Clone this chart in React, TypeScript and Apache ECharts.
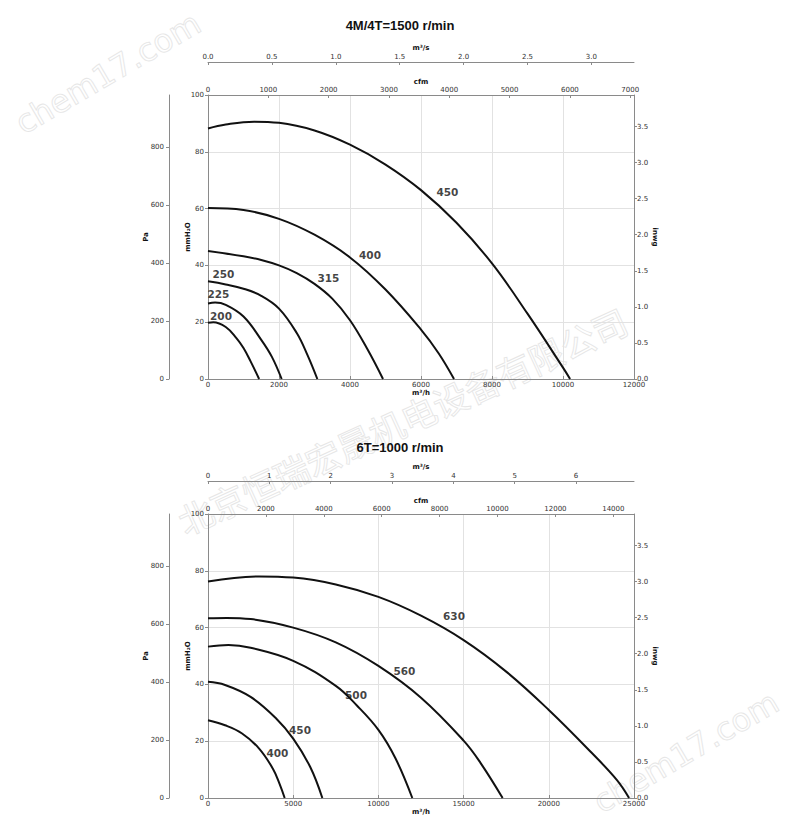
import React, { useEffect, useRef } from "react";
import * as echarts from "echarts";

// ---------- Titles ----------
const P1_TITLE = "4M/4T=1500 r/min";
const P2_TITLE = "6T=1000 r/min";

// ---------- Unit conversions ----------
const MM_MAX = 100;
const PA_PER_MM = 9.80665;
const INWG_PER_MM = 1 / 25.4;
const CFM_PER_M3H = 1 / 1.699;
const M3S_PER_M3H = 1 / 3600;

// ---------- Axis ranges / ticks ----------
const p1FlowMax = 12000;
const p1FlowInterval = 2000;
const p2FlowMax = 25000;
const p2FlowInterval = 5000;
const mmInterval = 20;
const p1CfmTicks = [0, 1000, 2000, 3000, 4000, 5000, 6000, 7000];
const p2CfmTicks = [0, 2000, 4000, 6000, 8000, 10000, 12000, 14000];
const p1M3sTicks = [0, 0.5, 1, 1.5, 2, 2.5, 3];
const p2M3sTicks = [0, 1, 2, 3, 4, 5, 6];
const paTicks = [0, 200, 400, 600, 800];
const inwgTicks = [0, 0.5, 1, 1.5, 2, 2.5, 3, 3.5];

// ---------- Panel 1 curves: [m3/h, mmH2O] ----------
const p1Fan450 = [[0, 88.2], [500, 89.6], [1300, 90.6], [2000, 90.2], [3000, 87.5], [4000, 82.5], [5000, 75.5], [6000, 66.5], [7000, 55], [8000, 40.7], [9000, 23], [10000, 4], [10200, 0]];
const p1Fan400 = [[0, 60.2], [1000, 59.5], [2000, 56.4], [3000, 50.8], [4000, 42.8], [5000, 31.5], [6000, 17.4], [6500, 9], [6930, 0]];
const p1Fan315 = [[0, 45.1], [1000, 43.2], [1500, 41.9], [2000, 40], [2500, 37.3], [3000, 33.5], [3500, 28.3], [4000, 20.7], [4500, 10.3], [4930, 0]];
const p1Fan250 = [[0, 34.4], [500, 33.3], [1000, 31.8], [1500, 29.3], [2000, 24.8], [2500, 16.2], [2800, 8.5], [3080, 0]];
const p1Fan225 = [[0, 26.6], [200, 26.9], [500, 26.1], [1000, 22], [1500, 13.8], [1800, 7.8], [2075, 0]];
const p1Fan200 = [[0, 19.8], [150, 20], [500, 18.3], [800, 14.4], [1000, 10.9], [1200, 6.2], [1440, 0]];
const p1Curves = [p1Fan450, p1Fan400, p1Fan315, p1Fan250, p1Fan225, p1Fan200];
const p1LabelNames = ["450", "400", "315", "250", "225", "200"];
const p1LabelX = [6742, 4563, 3390, 432, 291, 366];
const p1LabelY = [65.9, 43.6, 35.7, 37, 29.8, 22.3];

// ---------- Panel 2 curves: [m3/h, mmH2O] ----------
const p2Fan630 = [[0, 76.2], [3000, 78], [5000, 77.6], [7500, 75.2], [10000, 70.8], [12500, 64.2], [15000, 55.6], [17500, 44.5], [20000, 31], [22500, 16], [24000, 6.3], [24710, 0]];
const p2Fan560 = [[0, 63.3], [1100, 63.4], [2500, 63], [5000, 60], [7500, 54.8], [10000, 46.5], [12500, 35.3], [15000, 20.2], [16000, 12.3], [17290, 0]];
const p2Fan500 = [[0, 53.3], [1200, 53.9], [2500, 52.9], [5000, 48.3], [7500, 39.5], [8750, 32.5], [10000, 24], [11000, 14], [11990, 0]];
const p2Fan450 = [[0, 40.9], [1000, 39.8], [2500, 35.6], [4000, 28], [5000, 20.9], [6000, 10.9], [6710, 0]];
const p2Fan400 = [[0, 27.4], [1000, 25.6], [2000, 22.7], [3000, 17.4], [3800, 10.4], [4200, 5], [4500, 0]];
const p2Curves = [p2Fan630, p2Fan560, p2Fan500, p2Fan450, p2Fan400];
const p2LabelNames = ["630", "560", "500", "450", "400"];
const p2LabelX = [14436, 11522, 8685, 5399, 4069];
const p2LabelY = [64.1, 44.7, 36.4, 23.8, 16];

// ---------- Styles ----------
const FONT = "DejaVu Sans";
const AXIS_COLOR = "#8a8a8a";
const labelBase = { fontSize: 7, color: "#333", fontFamily: FONT };
const nameStyle = { fontSize: 7, fontWeight: "bold" as const, color: "#111", fontFamily: FONT };
const axisLine = { show: true, onZero: false, lineStyle: { color: AXIS_COLOR, width: 1 } };
const tickStyle = { color: AXIS_COLOR, width: 1 };
const plain = (v: number) => String(v);

function flowAxis(grid: number, max: number, interval: number) {
  return {
    type: "value", gridIndex: grid, position: "bottom", min: 0, max, interval,
    name: "m³/h", nameLocation: "middle", nameGap: 10, nameTextStyle: nameStyle,
    axisLine, axisTick: { show: true, inside: true, length: 3, lineStyle: tickStyle },
    axisLabel: { ...labelBase, margin: 2, formatter: plain },
    splitLine: { show: true, lineStyle: { color: "#e2e2e2", width: 1 } },
  };
}
function cfmAxis(grid: number, flowMax: number, ticks: number[]) {
  return {
    type: "value", gridIndex: grid, position: "top", min: 0, max: flowMax * CFM_PER_M3H,
    name: "cfm", nameLocation: "middle", nameGap: 9, nameTextStyle: nameStyle,
    axisLine, axisTick: { show: true, inside: true, length: 3, lineStyle: tickStyle, customValues: ticks },
    axisLabel: { ...labelBase, margin: 2, customValues: ticks, formatter: plain },
    splitLine: { show: false },
  };
}
function m3sAxis(grid: number, flowMax: number, ticks: number[], decimals: number) {
  return {
    type: "value", gridIndex: grid, position: "top", offset: 33, min: 0, max: flowMax * M3S_PER_M3H,
    name: "m³/s", nameLocation: "middle", nameGap: 11, nameTextStyle: nameStyle,
    axisLine, axisTick: { show: true, inside: true, length: 3, lineStyle: tickStyle, customValues: ticks },
    axisLabel: { ...labelBase, margin: 2, customValues: ticks, formatter: (v: number) => v.toFixed(decimals) },
    splitLine: { show: false },
  };
}
function mmAxis(grid: number) {
  return {
    type: "value", gridIndex: grid, position: "left", min: 0, max: MM_MAX, interval: mmInterval,
    name: "mmH₂O", nameLocation: "middle", nameGap: 17, nameMoveOverlap: false, nameTextStyle: nameStyle,
    axisLine, axisTick: { show: true, inside: false, length: 3, lineStyle: tickStyle },
    axisLabel: { ...labelBase, margin: 4 },
    splitLine: { show: true, lineStyle: { color: "#e2e2e2", width: 1 } },
  };
}
function paAxis(grid: number) {
  return {
    type: "value", gridIndex: grid, position: "left", offset: 39, min: 0, max: MM_MAX * PA_PER_MM,
    name: "Pa", nameLocation: "middle", nameGap: 20, nameMoveOverlap: false, nameTextStyle: nameStyle,
    axisLine, axisTick: { show: true, inside: false, length: 3, lineStyle: tickStyle, customValues: paTicks },
    axisLabel: { ...labelBase, margin: 5, customValues: paTicks },
    splitLine: { show: false },
  };
}
function inwgAxis(grid: number) {
  return {
    type: "value", gridIndex: grid, position: "right", min: 0, max: MM_MAX * INWG_PER_MM,
    name: "inwg", nameLocation: "middle", nameGap: 17, nameMoveOverlap: false, nameRotate: -90, nameTextStyle: nameStyle,
    axisLine, axisTick: { show: true, inside: false, length: 3, lineStyle: tickStyle, customValues: inwgTicks },
    axisLabel: { ...labelBase, margin: 3, customValues: inwgTicks, formatter: (v: number) => v.toFixed(1) },
    splitLine: { show: false },
  };
}

function curveSeries(curves: number[][][], xIdx: number, yIdx: number) {
  return curves.map((c) => ({
    type: "line", xAxisIndex: xIdx, yAxisIndex: yIdx, data: c,
    smooth: 0.4, symbol: "none", silent: true,
    lineStyle: { color: "#111", width: 2 },
  }));
}
function labelSeries(names: string[], xs: number[], ys: number[], xIdx: number, yIdx: number) {
  return {
    type: "scatter", xAxisIndex: xIdx, yAxisIndex: yIdx, symbolSize: 1, silent: true,
    itemStyle: { color: "transparent" },
    data: names.map((n, i) => ({ name: n, value: [xs[i], ys[i]] })),
    label: { show: true, position: "inside", formatter: "{b}", fontSize: 10.5, fontWeight: "bold", color: "#111", fontFamily: FONT },
  };
}

const wmStyle = (text: string, size: number, family: string) => ({
  text, font: `${size}px "${family}"`, fill: "rgba(255,255,255,0)", stroke: "#e6e6e6", lineWidth: 0.9,
  align: "center", verticalAlign: "middle", textAlign: "center", textVerticalAlign: "middle",
});

export default function App() {
  const ref = useRef<HTMLDivElement>(null);
  useEffect(() => {
    if (!ref.current) return;
    const chart = echarts.init(ref.current, null, { renderer: "svg" });
    chart.setOption({
      animation: false,
      backgroundColor: "#fff",
      title: [
        { text: P1_TITLE, left: "center", top: 14, textStyle: { fontSize: 13, fontWeight: "bold", color: "#111", fontFamily: "Liberation Sans" } },
        { text: P2_TITLE, left: "center", top: 436, textStyle: { fontSize: 13, fontWeight: "bold", color: "#111", fontFamily: "Liberation Sans" } },
      ],
      grid: [
        { left: 208, top: 95, width: 426, height: 284, show: false },
        { left: 208, top: 514, width: 426, height: 284, show: false },
      ],
      xAxis: [
        flowAxis(0, p1FlowMax, p1FlowInterval),
        cfmAxis(0, p1FlowMax, p1CfmTicks),
        m3sAxis(0, p1FlowMax, p1M3sTicks, 1),
        flowAxis(1, p2FlowMax, p2FlowInterval),
        cfmAxis(1, p2FlowMax, p2CfmTicks),
        m3sAxis(1, p2FlowMax, p2M3sTicks, 0),
      ],
      yAxis: [
        mmAxis(0), paAxis(0), inwgAxis(0),
        mmAxis(1), paAxis(1), inwgAxis(1),
      ],
      series: [
        ...curveSeries(p1Curves, 0, 0),
        labelSeries(p1LabelNames, p1LabelX, p1LabelY, 0, 0),
        ...curveSeries(p2Curves, 3, 3),
        labelSeries(p2LabelNames, p2LabelX, p2LabelY, 3, 3),
      ],
      graphic: [
        { type: "text", x: 108, y: 73, rotation: 0.53, silent: true, style: wmStyle("chem17.com", 32, "DejaVu Sans") },
        { type: "text", x: 686, y: 752, rotation: 0.53, silent: true, style: wmStyle("chem17.com", 32, "DejaVu Sans") },
        { type: "text", x: 402, y: 420, rotation: 0.43, silent: true, style: wmStyle("北京恒瑞宏晟机电设备有限公司", 35, "Noto Sans CJK SC") },
      ],
    });
    return () => chart.dispose();
  }, []);
  return <div ref={ref} style={{ position: "fixed", left: 0, top: 0, width: 800, height: 828 }} />;
}
